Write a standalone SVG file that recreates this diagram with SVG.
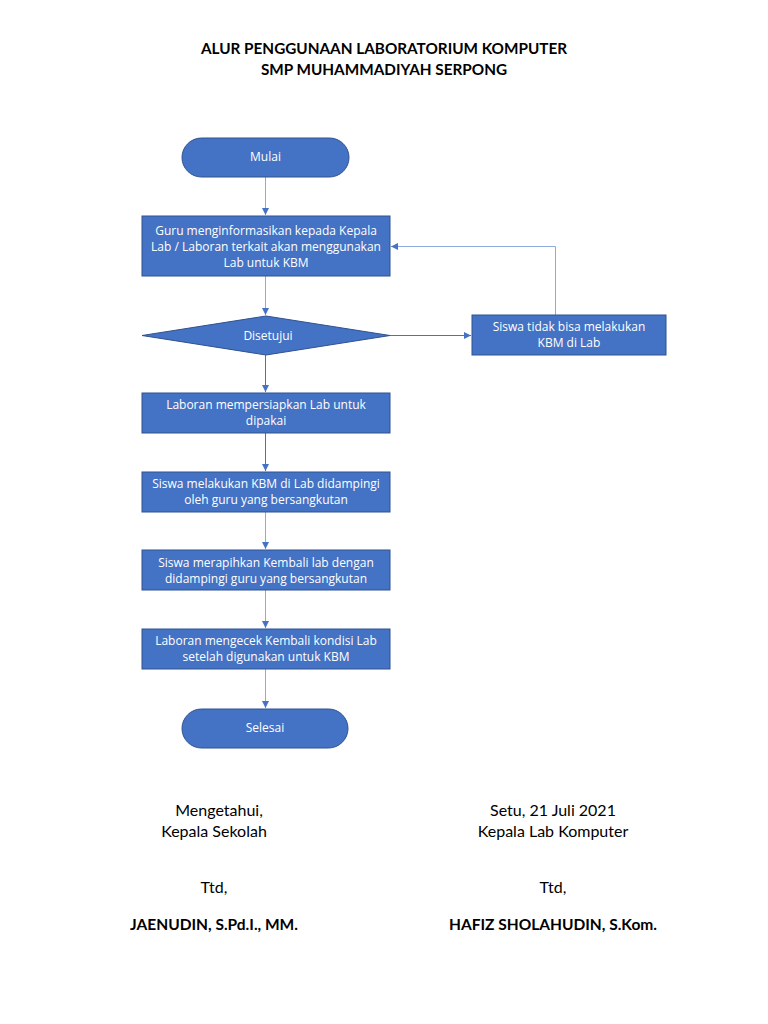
<svg xmlns="http://www.w3.org/2000/svg" width="768" height="1024" viewBox="0 0 768 1024">
<style>
.n{fill:#4472C4;stroke:#2F528F;stroke-width:1}
.t{font-family:"Open Sans","Noto Sans",sans-serif;font-size:12px;fill:#fff;text-anchor:middle}
.c{fill:none;stroke:#8FAADC;stroke-width:1}
.cd{fill:none;stroke:#4472C4;stroke-width:1}
.h{font-family:Lato,"Liberation Sans",sans-serif;font-weight:bold;font-size:15.3px;fill:#000;text-anchor:middle}
.f{font-family:Lato,"Liberation Sans",sans-serif;font-size:16px;fill:#000;text-anchor:middle}
.fb{font-family:Lato,"Liberation Sans",sans-serif;font-size:15.5px;font-weight:bold;fill:#000;text-anchor:middle}
</style>
<defs>
<marker id="a" markerWidth="8" markerHeight="8" refX="7" refY="4" orient="auto" markerUnits="userSpaceOnUse">
<path d="M0,0.5 L7,4 L0,7.5 Z" fill="#4472C4"/>
</marker>
</defs>
<rect width="768" height="1024" fill="#fff"/>
<text class="h" x="384" y="54">ALUR PENGGUNAAN LABORATORIUM KOMPUTER</text>
<text class="h" x="384" y="75">SMP MUHAMMADIYAH SERPONG</text>
<g id="connectors">
<path class="c" d="M265.5,177 V215" marker-end="url(#a)"/>
<path class="c" d="M265.5,276 V315" marker-end="url(#a)"/>
<path class="cd" d="M265.5,355 V392" marker-end="url(#a)"/>
<path class="cd" d="M265.5,433 V471" marker-end="url(#a)"/>
<path class="c" d="M265.5,512 V549" marker-end="url(#a)"/>
<path class="c" d="M265.5,590 V628" marker-end="url(#a)"/>
<path class="c" d="M265.5,669 V708" marker-end="url(#a)"/>
<path class="cd" d="M390,335.5 H471" marker-end="url(#a)"/>
<path class="c" d="M555.5,315 V246.5 H391" marker-end="url(#a)"/>
</g>
<g id="mulai">
<rect class="n" x="182" y="138" width="167" height="39" rx="19.5"/>
<text class="t" x="265.5" y="161">Mulai</text>
</g>
<g id="guru">
<rect class="n" x="142" y="216" width="248" height="60"/>
<text class="t" x="266" y="235">Guru menginformasikan kepada Kepala</text>
<text class="t" x="266" y="251">Lab / Laboran terkait akan menggunakan</text>
<text class="t" x="266" y="267">Lab untuk KBM</text>
</g>
<g id="disetujui">
<polygon class="n" points="142,335.5 266,316 390,335.5 266,355"/>
<text class="t" x="268" y="340">Disetujui</text>
</g>
<g id="tidak">
<rect class="n" x="472" y="315" width="194" height="40"/>
<text class="t" x="569" y="331">Siswa tidak bisa melakukan</text>
<text class="t" x="569" y="347">KBM di Lab</text>
</g>
<g id="persiapan">
<rect class="n" x="142" y="393" width="248" height="40"/>
<text class="t" x="266" y="409">Laboran mempersiapkan Lab untuk</text>
<text class="t" x="266" y="425">dipakai</text>
</g>
<g id="kbm">
<rect class="n" x="142" y="472" width="248" height="40"/>
<text class="t" x="266" y="488">Siswa melakukan KBM di Lab didampingi</text>
<text class="t" x="266" y="504">oleh guru yang bersangkutan</text>
</g>
<g id="rapih">
<rect class="n" x="142" y="550" width="248" height="40"/>
<text class="t" x="266" y="567">Siswa merapihkan Kembali lab dengan</text>
<text class="t" x="266" y="583">didampingi guru yang bersangkutan</text>
</g>
<g id="cek">
<rect class="n" x="142" y="629" width="248" height="40"/>
<text class="t" x="266" y="645">Laboran mengecek Kembali kondisi Lab</text>
<text class="t" x="266" y="661">setelah digunakan untuk KBM</text>
</g>
<g id="selesai">
<rect class="n" x="182" y="709" width="166" height="39" rx="19.5"/>
<text class="t" x="265" y="732">Selesai</text>
</g>
<text class="f" x="219" y="816">Mengetahui,</text>
<text class="f" x="214" y="837">Kepala Sekolah</text>
<text class="f" x="214" y="893">Ttd,</text>
<text class="fb" x="214" y="930">JAENUDIN, S.Pd.I., MM.</text>
<text class="f" x="553" y="816">Setu, 21 Juli 2021</text>
<text class="f" x="553" y="837">Kepala Lab Komputer</text>
<text class="f" x="553" y="893">Ttd,</text>
<text class="fb" x="553" y="930">HAFIZ SHOLAHUDIN, S.Kom.</text>
</svg>
